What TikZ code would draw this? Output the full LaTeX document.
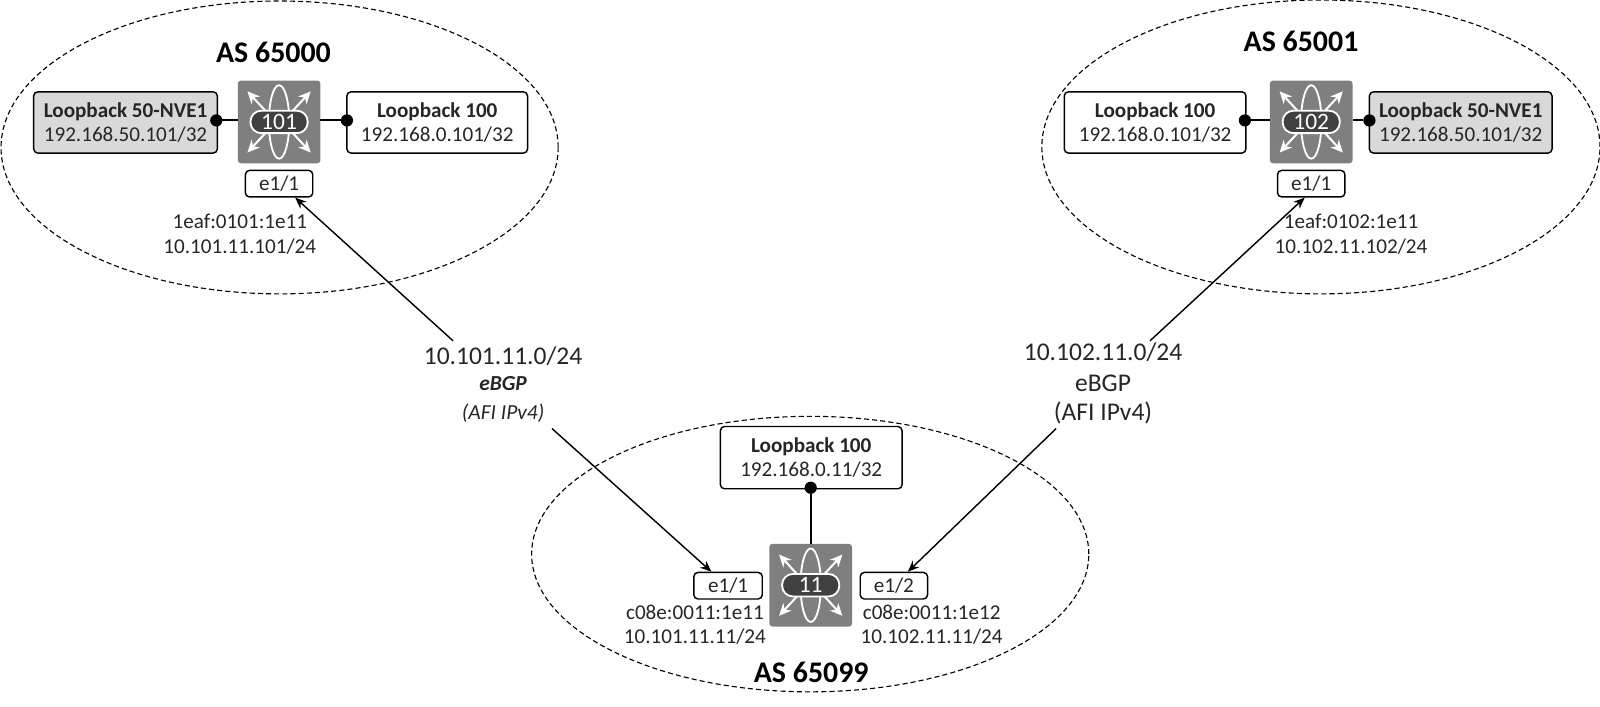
\documentclass[tikz,border=0pt]{standalone}
\usepackage{fontspec}
\setmainfont{Carlito}
\usetikzlibrary{shapes.geometric,arrows.meta}
\definecolor{txt}{HTML}{262626}
\definecolor{swgray}{HTML}{7F7F7F}
\definecolor{pilldark}{HTML}{404040}
\definecolor{lbgray}{HTML}{D9D9D9}
\newcommand{\fs}[1]{\fontsize{#1}{#1}\selectfont}
\tikzset{
  x=1pt,y=-1pt,
  asgroup/.style={draw,ellipse,dashed,dash pattern=on 5pt off 3pt,line width=1.1pt,inner sep=0,outer sep=0},
  lbbox/.style={draw=black,line width=1.4pt,rounded corners=4pt,fill=white,minimum height=60pt,inner sep=0,align=center,text=txt,font=\fs{20.7}},
  lbgrey/.style={lbbox,fill=lbgray},
  port/.style={draw=black,line width=1.4pt,rounded corners=4pt,fill=white,minimum width=66pt,minimum height=26pt,inner sep=0,text=txt,font=\fs{20.7}},
  swbox/.style={rectangle,fill=swgray,rounded corners=3pt,minimum width=81pt,minimum height=81pt,inner sep=0,outer sep=0},
  pill/.style={rectangle,rounded corners=10.5pt,draw=white,line width=1.8pt,fill=pilldark,minimum width=56pt,minimum height=22pt,inner sep=0,text=white,font=\fs{23}},
  lobe/.style={draw=white,line width=1.8pt,ellipse,minimum width=20pt,minimum height=72pt,inner sep=0},
  ray/.style={draw=white,line width=2pt,-{Stealth[length=12pt,width=11pt]}},
  dotn/.style={circle,fill=black,minimum size=12pt,inner sep=0,outer sep=0},
  link/.style={line width=1.9pt,black},
  peer/.style={line width=1.4pt,black,-{Stealth[length=11pt,width=9pt]}},
  addr/.style={align=center,text=txt,font=\fs{20.7},inner sep=0},
  astitle/.style={font=\bfseries\fs{29.3},text=black,inner sep=0},
  net/.style={text=txt,font=\fs{25},inner sep=0},
  sess/.style={text=txt,font=\itshape\fs{21},inner sep=0},
  sessplain/.style={text=txt,font=\fs{25},inner sep=0}
}
\newcommand{\switchicon}[4]{% name, x, y, label
  \node[swbox] (#1) at (#2,#3) {};
  \begin{scope}[shift={(#2,#3)}]
    \node[lobe] (#1lobe) at (0,0) {};
    \foreach \dx/\dy in {1/1,-1/1,1/-1,-1/-1}{
      \draw[ray] (\dx*8,\dy*5) -- (\dx*31,\dy*30);
    }
    \node[pill] (#1pill) at (0,0) {#4};
  \end{scope}
}
\begin{document}
\begin{tikzpicture}
\useasboundingbox (0,0) rectangle (1568,692);
% AS groups
\node[asgroup,minimum width=546pt,minimum height=287pt] (as0) at (274,144.5) {};
\node[asgroup,minimum width=547pt,minimum height=288pt] (as1) at (1294.5,144) {};
\node[asgroup,minimum width=546pt,minimum height=270pt] (as9) at (794,543) {};
\node[astitle] (t0) at (268,51) {AS 65000};
\node[astitle] (t1) at (1275,41) {AS 65001};
\node[astitle] (t9) at (795,659) {AS 65099};
% switches
\switchicon{s101}{273.5}{119.5}{101}
\switchicon{s102}{1285}{119.5}{102}
\switchicon{s11}{794.5}{573.5}{11}
% loopbacks left
\node[lbgrey,minimum width=180pt] (l50a) at (123,120) {\textbf{Loopback 50-NVE1}\\[3pt]192.168.50.101/32};
\node[lbbox,minimum width=177pt] (l100a) at (428.5,120) {\textbf{Loopback 100}\\[3pt]192.168.0.101/32};
\node[dotn] (d50a) at (212,118) {};
\node[dotn] (d100a) at (340,118) {};
\draw[link] (d50a) -- (s101.west |- d50a);
\draw[link] (s101.east |- d100a) -- (d100a);
% loopbacks right
\node[lbbox,minimum width=178pt] (l100b) at (1132,120) {\textbf{Loopback 100}\\[3pt]192.168.0.101/32};
\node[lbgrey,minimum width=179pt] (l50b) at (1431.5,120) {\textbf{Loopback 50-NVE1}\\[3pt]192.168.50.101/32};
\node[dotn] (d100b) at (1220,118) {};
\node[dotn] (d50b) at (1342,118) {};
\draw[link] (d100b) -- (s102.west |- d100b);
\draw[link] (s102.east |- d50b) -- (d50b);
% loopback bottom
\node[lbbox,minimum width=178pt,minimum height=61pt] (l100c) at (795,448.5) {\textbf{Loopback 100}\\[3pt]192.168.0.11/32};
\node[dotn] (d100c) at (794.5,478) {};
\draw[link] (d100c) -- (s11);
% ports
\node[port] (p101) at (273.5,180) {e1/1};
\node[port] (p102) at (1285,180) {e1/1};
\node[port,minimum width=67pt] (p11a) at (713.5,574) {e1/1};
\node[port] (p11b) at (876,574) {e1/2};
% addresses
\node[addr] (a101) at (235,229.5) {1eaf:0101:1e11\\[3pt]10.101.11.101/24};
\node[addr] (a102) at (1324,229.5) {1eaf:0102:1e11\\[3pt]10.102.11.102/24};
\node[addr] (a11a) at (681,612.5) {c08e:0011:1e11\\[3pt]10.101.11.11/24};
\node[addr] (a11b) at (913,612.5) {c08e:0011:1e12\\[3pt]10.102.11.11/24};
% link labels
\node[net] (n1) at (493,349) {10.101.11.0/24};
\node[sess] (b1) at (493,376) {\bfseries eBGP};
\node[sess] (f1) at (493,405) {(AFI IPv4)};
\node[net] (n2) at (1081,345) {10.102.11.0/24};
\node[sessplain] (b2) at (1081,376) {eBGP};
\node[sessplain] (f2) at (1081,405) {(AFI IPv4)};
% peer connectors
\coordinate (c1a) at (444,334);
\coordinate (c1b) at (541,420);
\coordinate (c2a) at (1127,334);
\coordinate (c2b) at (1035,420);
\draw[peer] (c1a) -- (p101.319);
\draw[peer] (c1b) -- (p11a.140);
\draw[peer] (c2a) -- (p102.245);
\draw[peer] (c2b) -- (p11b.45);
\end{tikzpicture}
\end{document}
